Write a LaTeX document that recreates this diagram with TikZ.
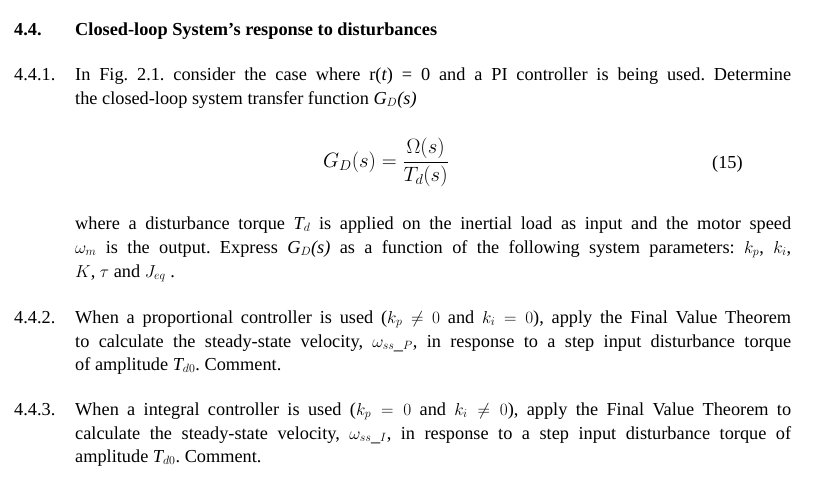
\documentclass[tikz,border=0pt]{standalone}
\usepackage{fontspec}
\setmainfont{Liberation Serif}
\frenchspacing
\begin{document}
\begin{tikzpicture}[x=1pt,y=1pt,
  txt/.style={anchor=base west,inner sep=0pt,font=\fontsize{18.3}{22}\selectfont}]
\useasboundingbox (0,0) rectangle (830,-491);
\fill[white] (0,0) rectangle (830,-491);
\newcommand{\jl}[1]{\hbox to 716pt{#1}}
\node[txt,font=\fontsize{18.3}{22}\selectfont\bfseries] (h1) at (14,-35) {4.4.};
\node[txt,font=\fontsize{18.3}{22}\selectfont\bfseries] (h2) at (75,-35) {Closed-loop System’s response to disturbances};
\node[txt] (n1) at (14,-80) {4.4.1.};
\node[txt] (a1) at (75,-80) {\jl{In Fig. 2.1. consider the case where r(\textit{t}) = 0 and a PI controller is being used. Determine}};
\node[txt] (a2) at (75,-104) {the closed-loop system transfer function \textit{G$_D$(s)}};
\node[inner sep=0pt,font=\fontsize{21}{25}\selectfont] (eq) at (386,-162) {$\displaystyle G_D(s)=\frac{\Omega(s)}{T_d(s)}$};
\node[txt] (eqn) at (712,-168) {(15)};
\node[txt] (a3) at (75,-229) {\jl{where a disturbance torque \textit{T$_d$} is applied on the inertial load as input and the motor speed}};
\node[txt] (a4) at (75,-253) {\jl{$\omega_m$ is the output. Express \textit{G$_D$(s)} as a function of the following system parameters: $k_p$, $k_i$,}};
\node[txt] (a5) at (75,-277) {$K$, $\tau$ and $J_{eq}$ .};
\node[txt] (n2) at (14,-323) {4.4.2.};
\node[txt] (b1) at (75,-323) {\jl{When a proportional controller is used ($k_p\!\neq\! 0$ and $k_i\!=\!0$), apply the Final Value Theorem}};
\node[txt] (b2) at (75,-347) {\jl{to calculate the steady-state velocity, $\omega_{ss\_P}$, in response to a step input disturbance torque}};
\node[txt] (b3) at (75,-370) {of amplitude \textit{T$_{d0}$}. Comment.};
\node[txt] (n3) at (14,-415) {4.4.3.};
\node[txt] (c1) at (75,-415) {\jl{When a integral controller is used ($k_p\!=\!0$ and $k_i\!\neq\! 0$), apply the Final Value Theorem to}};
\node[txt] (c2) at (75,-439) {\jl{calculate the steady-state velocity, $\omega_{ss\_I}$, in response to a step input disturbance torque of}};
\node[txt] (c3) at (75,-462) {amplitude \textit{T$_{d0}$}. Comment.};
\end{tikzpicture}
\end{document}
